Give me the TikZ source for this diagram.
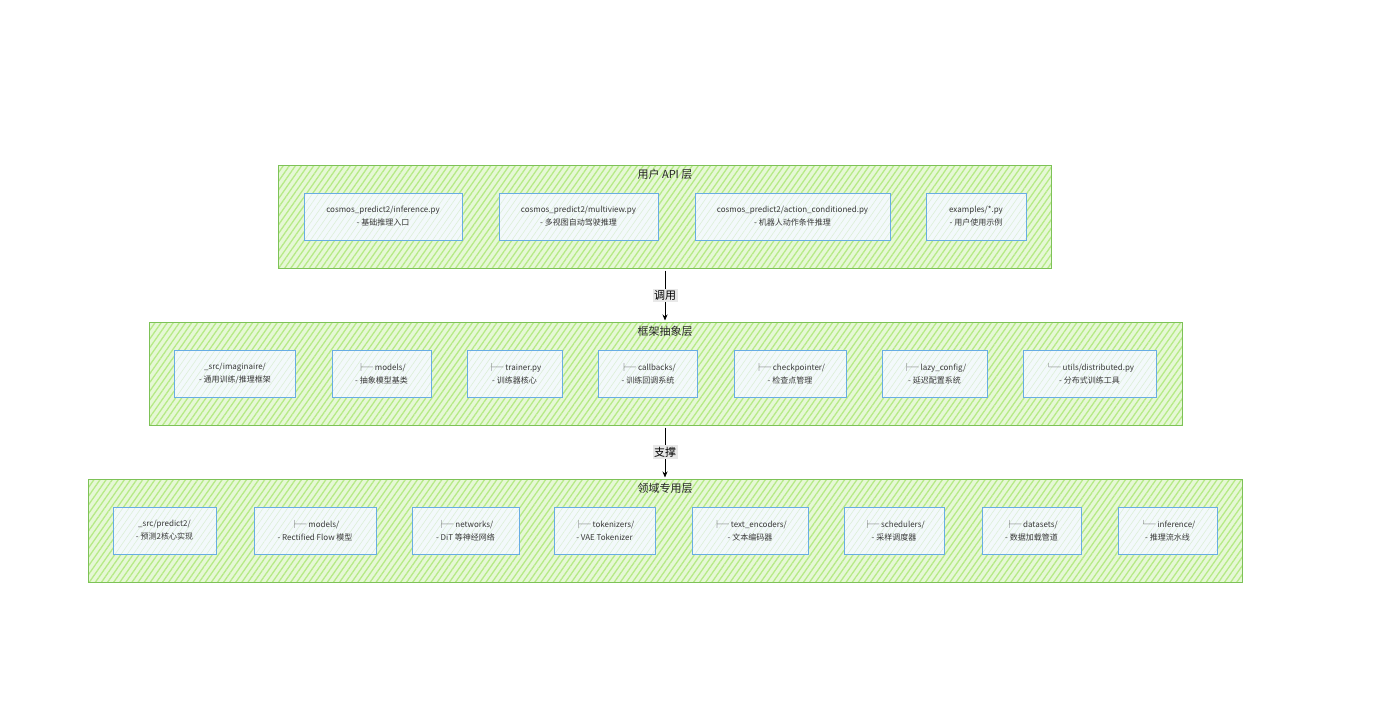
\documentclass[tikz,border=0pt]{standalone}
\usepackage{fontspec}
\setmainfont{Noto Sans CJK SC}
\usetikzlibrary{patterns.meta,arrows.meta}
\definecolor{layerbg}{HTML}{E6F8D6}
\definecolor{layerhatch}{HTML}{B6EA86}
\definecolor{layerline}{HTML}{7DC257}
\definecolor{boxbg}{HTML}{F3F9FB}
\definecolor{boxhatch}{HTML}{DDEFD8}
\definecolor{boxline}{HTML}{68ADE4}
\definecolor{tagbg}{HTML}{E8E8E8}
\tikzset{
  layer/.style={draw=layerline, line width=1pt, preaction={fill=layerbg},
    pattern={Lines[angle=55,distance=5pt,line width=1.3pt]}, pattern color=layerhatch,
    minimum height=103pt, inner sep=0pt},
  layertitle/.style={font=\fontsize{11}{13}\selectfont, text=black!85},
  modbox/.style={draw=boxline, line width=1pt, preaction={fill=boxbg},
    pattern={Lines[angle=55,distance=5pt,line width=0.6pt]}, pattern color=boxhatch,
    minimum height=47pt, inner sep=0pt, align=center, text=black!78,
    font=\fontsize{8}{13}\selectfont},
  tag/.style={fill=tagbg, inner sep=1.5pt, font=\fontsize{11}{13}\selectfont}
}
\begin{document}
\begin{tikzpicture}[x=1pt,y=-1pt]
        \useasboundingbox (0,0) rectangle (1400,701);

        % Layer 1: user API
        \node[layer, minimum width=773pt] (api) at (665,216.5) {};
        \node[layertitle] (apititle) at (665,174) {用户 API 层};
        \node[modbox, minimum width=158pt] (apiinf) at (383,216.5) {cosmos\_predict2/inference.py\\- 基础推理入口};
        \node[modbox, minimum width=159pt] (apimv) at (578.5,216.5) {cosmos\_predict2/multiview.py\\- 多视图自动驾驶推理};
        \node[modbox, minimum width=195pt] (apiac) at (792.5,216.5) {cosmos\_predict2/action\_conditioned.py\\- 机器人动作条件推理};
        \node[modbox, minimum width=100pt] (apiex) at (976,216.5) {examples/*.py\\- 用户使用示例};

        % Layer 2: framework abstraction
        \node[layer, minimum width=1033pt] (fw) at (665.5,373.5) {};
        \node[layertitle] (fwtitle) at (665,331) {框架抽象层};
        \node[modbox, minimum width=121pt] (fwsrc) at (235,373.5) {\_src/imaginaire/\\- 通用训练/推理框架};
        \node[modbox, minimum width=99pt] (fwmod) at (381.5,373.5) {├─ models/\\- 抽象模型基类};
        \node[modbox, minimum width=95pt] (fwtrain) at (514.5,373.5) {├─ trainer.py\\- 训练器核心};
        \node[modbox, minimum width=99pt] (fwcb) at (648,373.5) {├─ callbacks/\\- 训练回调系统};
        \node[modbox, minimum width=112pt] (fwck) at (790,373.5) {├─ checkpointer/\\- 检查点管理};
        \node[modbox, minimum width=105pt] (fwlazy) at (934.5,373.5) {├─ lazy\_config/\\- 延迟配置系统};
        \node[modbox, minimum width=133pt] (fwdist) at (1089.5,373.5) {└─ utils/distributed.py\\- 分布式训练工具};

        % Layer 3: domain specific
        \node[layer, minimum width=1154pt] (dom) at (665,530.5) {};
        \node[layertitle] (domtitle) at (665,488) {领域专用层};
        \node[modbox, minimum width=103pt] (domsrc) at (164.5,530.5) {\_src/predict2/\\- 预测2核心实现};
        \node[modbox, minimum width=122pt] (dommod) at (315,530.5) {├─ models/\\- Rectified Flow 模型};
        \node[modbox, minimum width=107pt] (domnet) at (465.5,530.5) {├─ networks/\\- DiT 等神经网络};
        \node[modbox, minimum width=101pt] (domtok) at (604.5,530.5) {├─ tokenizers/\\- VAE Tokenizer};
        \node[modbox, minimum width=116pt] (domenc) at (750,530.5) {├─ text\_encoders/\\- 文本编码器};
        \node[modbox, minimum width=100pt] (domsch) at (894,530.5) {├─ schedulers/\\- 采样调度器};
        \node[modbox, minimum width=99pt] (domdata) at (1031.5,530.5) {├─ datasets/\\- 数据加载管道};
        \node[modbox, minimum width=99pt] (dominf) at (1167.5,530.5) {└─ inference/\\- 推理流水线};

        % Connectors between layers
        \draw[-{Stealth[length=6pt,width=5pt]}, line width=0.8pt, shorten <=2pt, shorten >=1pt]
          (api.south -| apititle) -- node[tag] (calltag) {调用} (fw.north -| apititle);
        \draw[-{Stealth[length=6pt,width=5pt]}, line width=0.8pt, shorten <=2pt, shorten >=1pt]
          (fw.south -| fwtitle) -- node[tag] (supptag) {支撑} (dom.north -| fwtitle);

    \end{tikzpicture}
\end{document}
